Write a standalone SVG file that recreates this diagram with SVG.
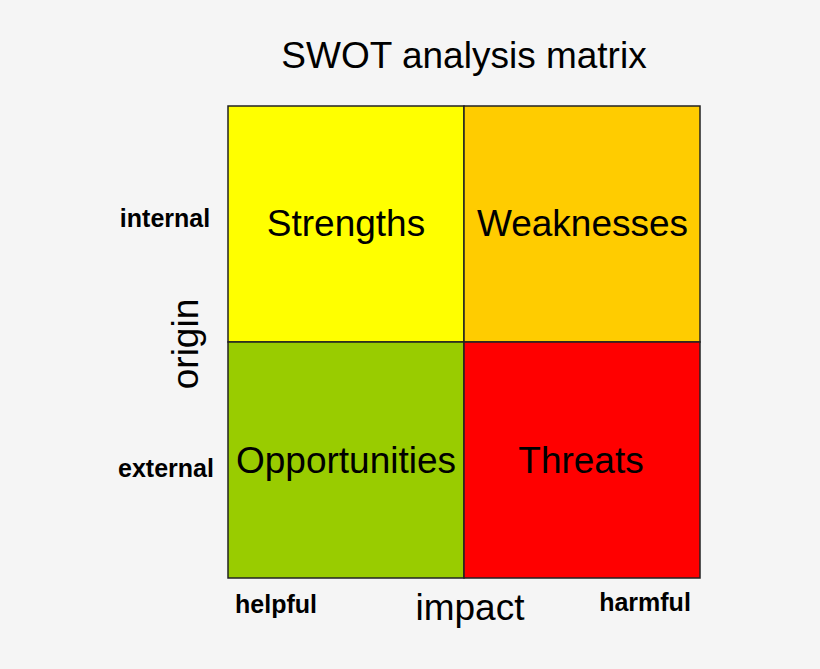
<svg xmlns="http://www.w3.org/2000/svg" width="820" height="669" viewBox="0 0 820 669">
<style>
.q{stroke:#222;stroke-width:1.5}
.big{font-family:"Liberation Sans",Arial,sans-serif;font-size:37px;fill:#000;text-anchor:middle}
.small{font-family:"Liberation Sans",Arial,sans-serif;font-size:25px;font-weight:bold;fill:#000;text-anchor:middle}
</style>
<rect width="820" height="669" fill="#f5f5f5"/>
<text class="big" x="464" y="68">SWOT analysis matrix</text>
<g id="strengths"><rect class="q" x="228" y="106" width="236" height="236" fill="#ffff00"/><text class="big" x="346" y="236">Strengths</text></g>
<g id="weaknesses"><rect class="q" x="464" y="106" width="236" height="236" fill="#ffcc00"/><text class="big" x="582.5" y="236">Weaknesses</text></g>
<g id="opportunities"><rect class="q" x="228" y="342" width="236" height="236" fill="#99cc00"/><text class="big" x="346" y="473">Opportunities</text></g>
<g id="threats"><rect class="q" x="464" y="342" width="236" height="236" fill="#ff0000"/><text class="big" x="581" y="473">Threats</text></g>
<g id="axes">
<text class="small" x="165" y="227">internal</text>
<text class="small" x="166" y="477">external</text>
<text class="big" transform="translate(198,344) rotate(-90)">origin</text>
<text class="small" x="276" y="613">helpful</text>
<text class="big" x="470" y="620">impact</text>
<text class="small" x="645" y="611">harmful</text>
</g>
</svg>
